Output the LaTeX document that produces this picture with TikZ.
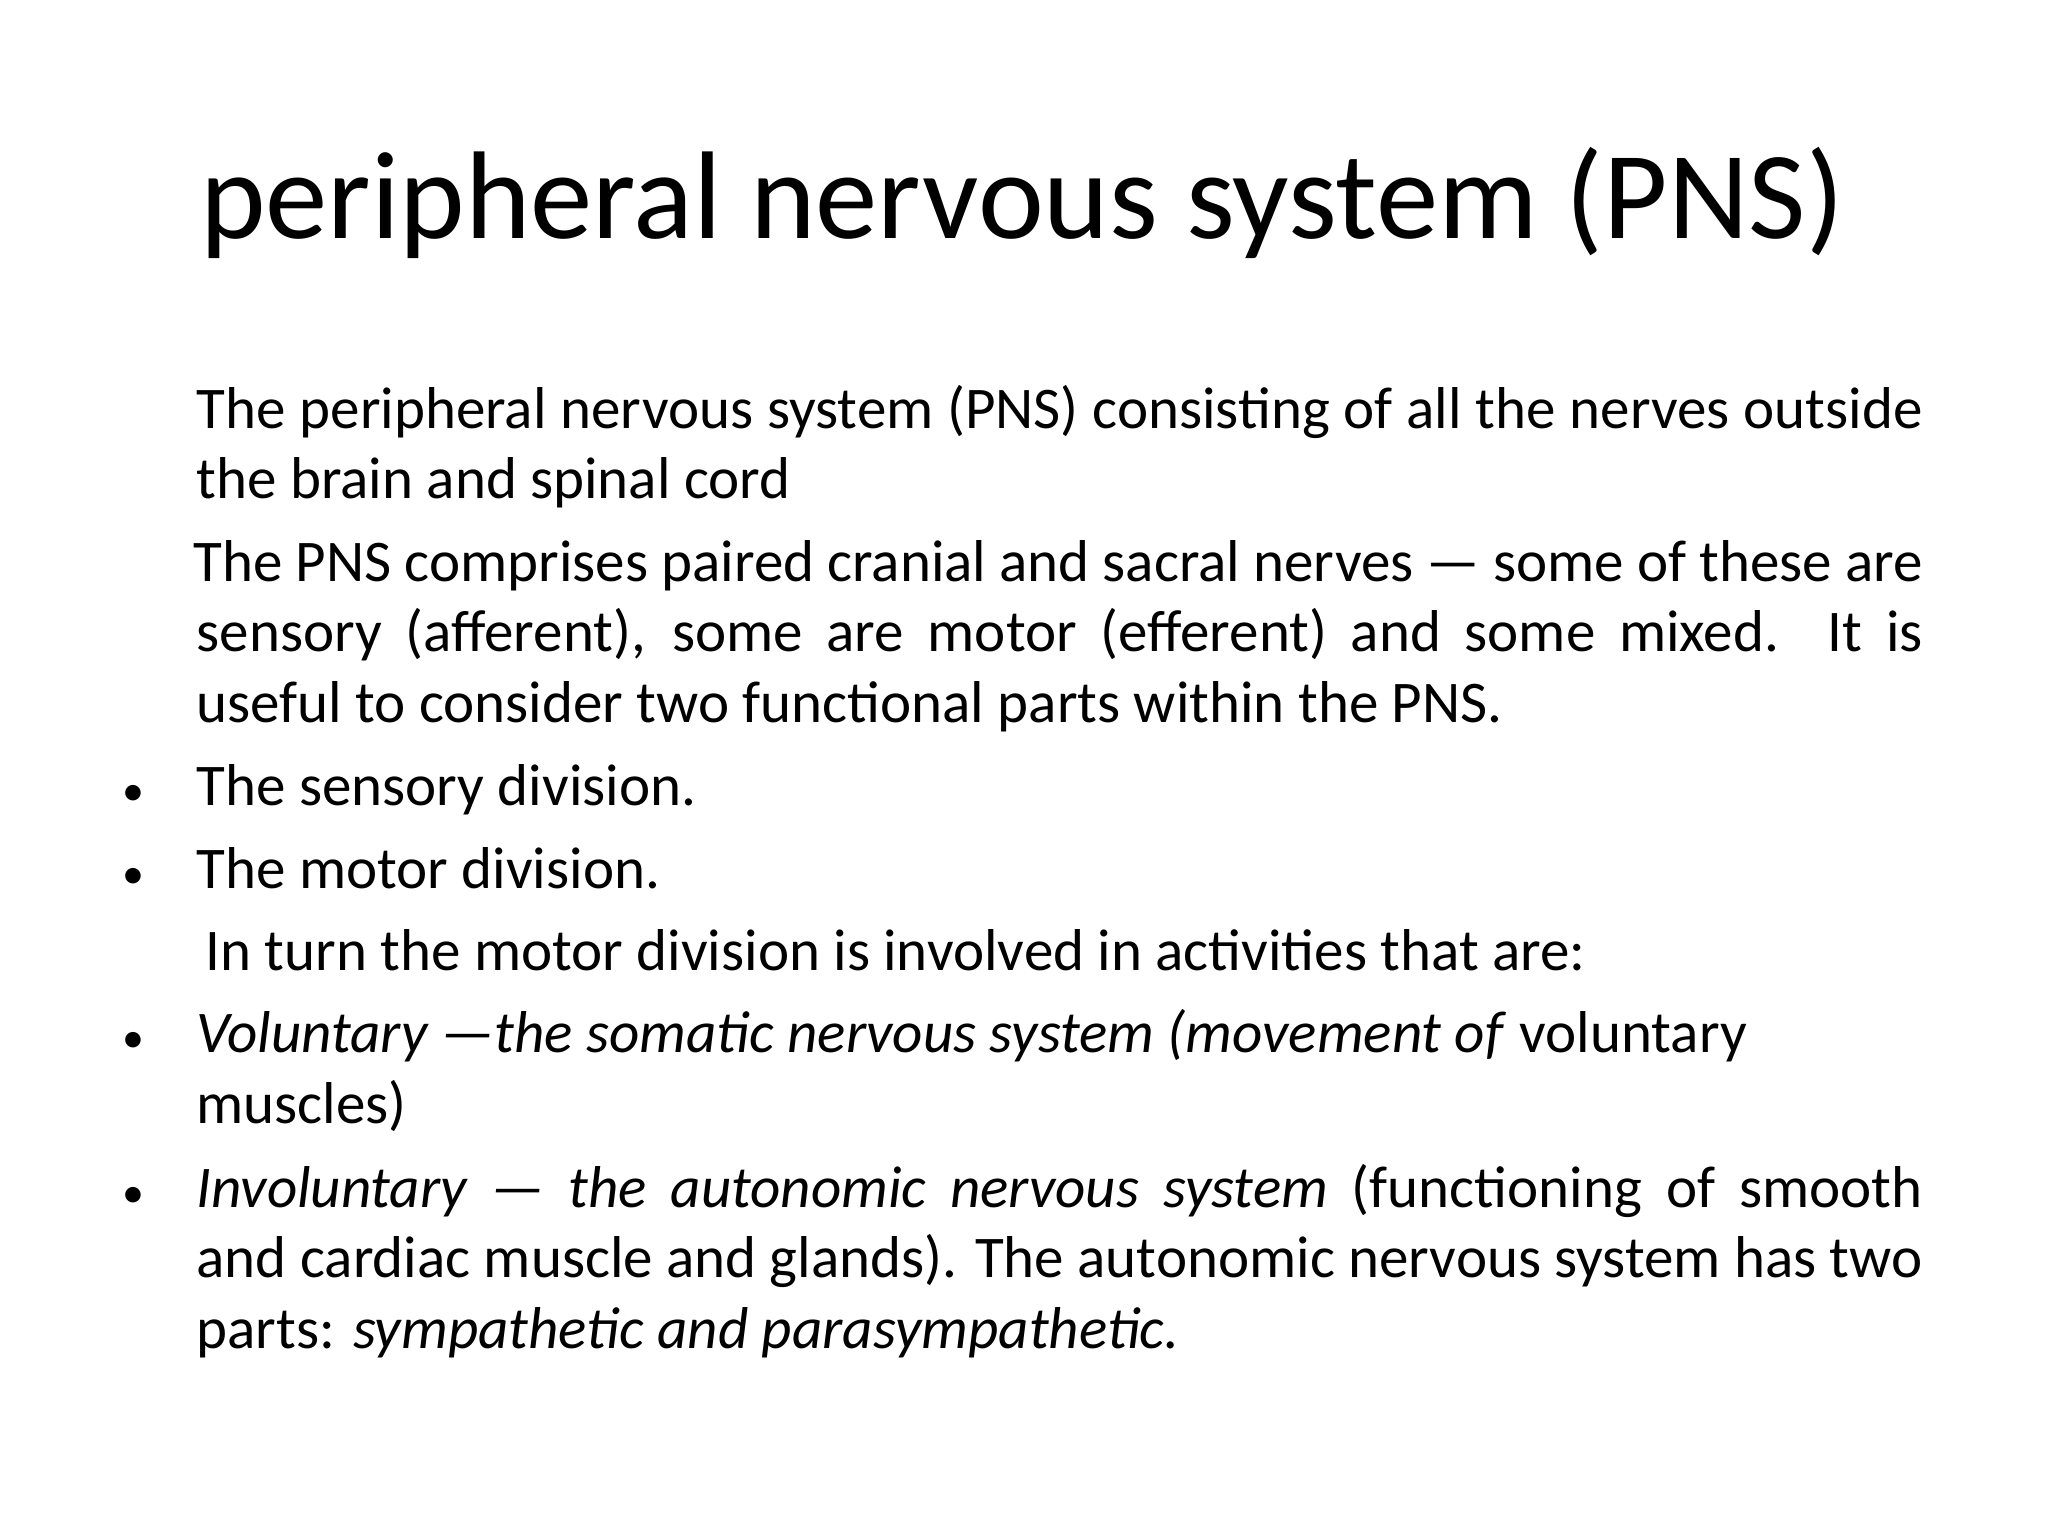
\documentclass[tikz,border=0pt]{standalone}
\usepackage{fontspec}
\setmainfont{Carlito}
\begin{document}
\begin{tikzpicture}[
  ln/.style={anchor=base west,inner sep=0pt,font=\fontsize{16.8}{20}\selectfont},
  bl/.style={anchor=base west,inner sep=0pt,font=\fontsize{12.5}{15}\selectfont}]
\useasboundingbox[fill=white] (0,0) rectangle (20.48,-15.36);
\node[anchor=base,inner sep=0pt,font=\fontsize{35.5}{40}\selectfont] (title) at (10.22,-2.39) {peripheral nervous system (PNS)};
\def\W{17.26cm}
\node[ln] (l1) at (1.96,-4.284) {\makebox[\W][s]{The peripheral nervous system (PNS) consisting of all the nerves outside}};
\node[ln] (l2) at (1.96,-4.989) {the brain and spinal cord};
\node[ln] (l3) at (1.93,-5.812) {\makebox[17.29cm][s]{The PNS comprises paired cranial and sacral nerves --- some of these are}};
\node[ln] (l4) at (1.96,-6.517) {\makebox[\W][s]{sensory (afferent), some are motor (efferent) and some mixed. It is}};
\node[ln] (l5) at (1.96,-7.222) {useful to consider two functional parts within the PNS.};
\node[bl] (b1) at (1.22,-8.058) {\textbullet};
\node[ln] (l6) at (1.96,-8.058) {The sensory division.};
\node[bl] (b2) at (1.22,-8.881) {\textbullet};
\node[ln] (l7) at (1.96,-8.881) {The motor division.};
\node[ln] (l8) at (2.05,-9.704) {In turn the motor division is involved in activities that are:};
\node[bl] (b3) at (1.22,-10.526) {\textbullet};
\node[ln] (l9) at (1.96,-10.526) {\textit{Voluntary ---the somatic nervous system (movement of} voluntary};
\node[ln] (l10) at (1.96,-11.23) {muscles)};
\node[bl] (b4) at (1.22,-12.07) {\textbullet};
\node[ln] (l11) at (1.96,-12.07) {\makebox[\W][s]{\textit{Involuntary --- the autonomic nervous system} (functioning of smooth}};
\node[ln] (l12) at (1.96,-12.77) {\makebox[\W][s]{and cardiac muscle and glands). The autonomic nervous system has two}};
\node[ln] (l13) at (1.96,-13.48) {parts: \textit{sympathetic and parasympathetic.}};
\end{tikzpicture}
\end{document}
